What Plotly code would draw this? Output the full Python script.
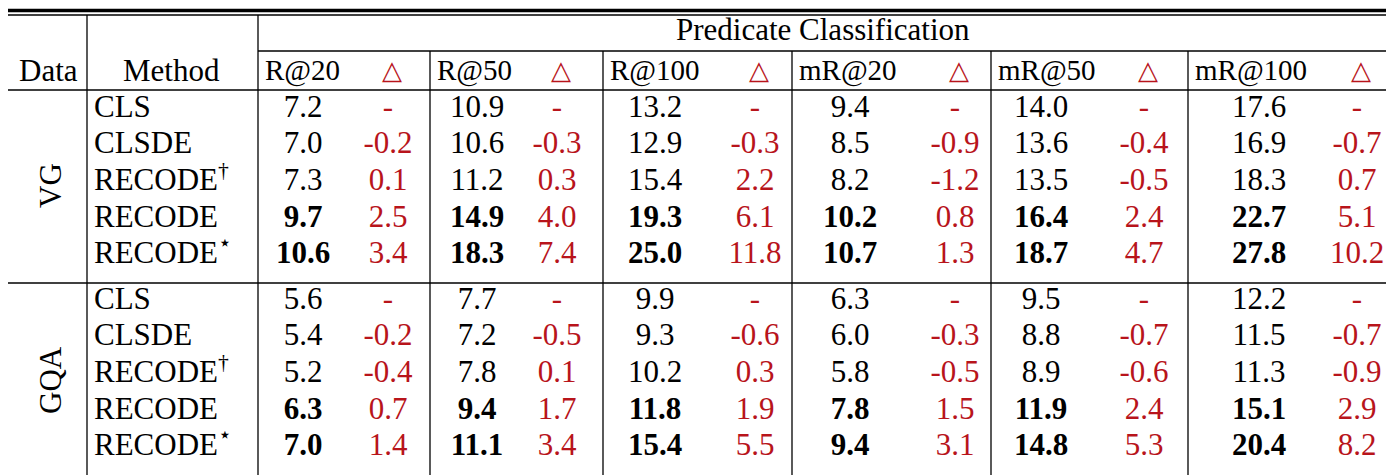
import plotly.graph_objects as go

datasets = ["VG", "GQA"]
methods = ["CLS", "CLSDE", "RECODE<sup>†</sup>", "RECODE", "RECODE<sup>⋆</sup>"]
metrics = ["R@20", "R@50", "R@100", "mR@20", "mR@50", "mR@100"]
bold_rows = [3, 4]

vg_values = [
    [7.2, 7.0, 7.3, 9.7, 10.6],
    [10.9, 10.6, 11.2, 14.9, 18.3],
    [13.2, 12.9, 15.4, 19.3, 25.0],
    [9.4, 8.5, 8.2, 10.2, 10.7],
    [14.0, 13.6, 13.5, 16.4, 18.7],
    [17.6, 16.9, 18.3, 22.7, 27.8],
]
vg_deltas = [
    [None, -0.2, 0.1, 2.5, 3.4],
    [None, -0.3, 0.3, 4.0, 7.4],
    [None, -0.3, 2.2, 6.1, 11.8],
    [None, -0.9, -1.2, 0.8, 1.3],
    [None, -0.4, -0.5, 2.4, 4.7],
    [None, -0.7, 0.7, 5.1, 10.2],
]
gqa_values = [
    [5.6, 5.4, 5.2, 6.3, 7.0],
    [7.7, 7.2, 7.8, 9.4, 11.1],
    [9.9, 9.3, 10.2, 11.8, 15.4],
    [6.3, 6.0, 5.8, 7.8, 9.4],
    [9.5, 8.8, 8.9, 11.9, 14.8],
    [12.2, 11.5, 11.3, 15.1, 20.4],
]
gqa_deltas = [
    [None, -0.2, -0.4, 0.7, 1.4],
    [None, -0.5, 0.1, 1.7, 3.4],
    [None, -0.6, 0.3, 1.9, 5.5],
    [None, -0.3, -0.5, 1.5, 3.1],
    [None, -0.7, -0.6, 2.4, 5.3],
    [None, -0.7, -0.9, 2.9, 8.2],
]
values = [vg_values, gqa_values]
deltas = [vg_deltas, gqa_deltas]

W, H = 1394, 475
FONT = "Liberation Serif, Times New Roman, serif"
RED = "#b8141b"
FS = 31

col_left = [250, 422, 595, 784, 983, 1180]
val_x = [295, 469, 647, 842, 1033, 1251]
del_x = [380, 549, 747, 947, 1136, 1349]
group_start = [101, 293]
row_step = 36.6

fig = go.Figure()

for d in range(2):
    for m in range(len(metrics)):
        xs, ys, ts = [], [], []
        dxs, dys, dts = [], [], []
        for r in range(len(methods)):
            y = group_start[d] + r * row_step
            v = f"{values[d][m][r]:.1f}"
            if r in bold_rows:
                v = f"<b>{v}</b>"
            xs.append(val_x[m]); ys.append(y); ts.append(v)
            dv = deltas[d][m][r]
            dxs.append(del_x[m]); dys.append(y)
            dts.append("-" if dv is None else f"{dv:.1f}")
        fig.add_trace(go.Scatter(x=xs, y=ys, text=ts, mode="text",
                                 textfont=dict(family=FONT, size=FS, color="black"),
                                 hoverinfo="skip", showlegend=False))
        fig.add_trace(go.Scatter(x=dxs, y=dys, text=dts, mode="text",
                                 textfont=dict(family=FONT, size=FS, color=RED),
                                 hoverinfo="skip", showlegend=False))
    fig.add_trace(go.Scatter(x=[86] * len(methods),
                             y=[group_start[d] + r * row_step for r in range(len(methods))],
                             text=methods, mode="text", textposition="middle right",
                             textfont=dict(family=FONT, size=FS, color="black"),
                             hoverinfo="skip", showlegend=False))

ann = []
def A(x, y, t, color="black", xanchor="center", angle=0, size=FS):
    ann.append(dict(x=x, y=y, text=t, showarrow=False, xanchor=xanchor, yanchor="middle",
                    textangle=angle, font=dict(family=FONT, size=size, color=color),
                    xref="x", yref="y"))

A(815, 21, "Predicate Classification")
A(40, 62, "Data")
A(163, 62, "Method")
for m in range(len(metrics)):
    A(col_left[m] + 5, 62, metrics[m], xanchor="left", size=29)
    A(del_x[m] + 4, 62, "△", color=RED, size=26)
A(42, 178, "VG", angle=-90)
A(42, 372, "GQA", angle=-90)

shapes = []
def L(x0, y0, x1, y1, w=1.3):
    shapes.append(dict(type="line", x0=x0, y0=y0, x1=x1, y1=y1, xref="x", yref="y",
                       line=dict(color="black", width=w)))

L(0, 2.5, W, 2.5, 3.5)
L(0, 7, W, 7, 1.3)
L(250, 43, W, 43)
L(0, 82, W, 82)
L(0, 275, W, 275)
L(0, 470, W, 470, 3.5)
L(79, 7, 79, 470)
L(250, 7, 250, 470)
for x in col_left[1:]:
    L(x, 43, x, 470)

fig.update_layout(
    width=W, height=H, margin=dict(l=0, r=0, t=0, b=0),
    paper_bgcolor="white", plot_bgcolor="white",
    xaxis=dict(range=[0, W], visible=False, fixedrange=True),
    yaxis=dict(range=[H, 0], visible=False, fixedrange=True),
    annotations=ann, shapes=shapes,
)
fig.write_html("out.html")
